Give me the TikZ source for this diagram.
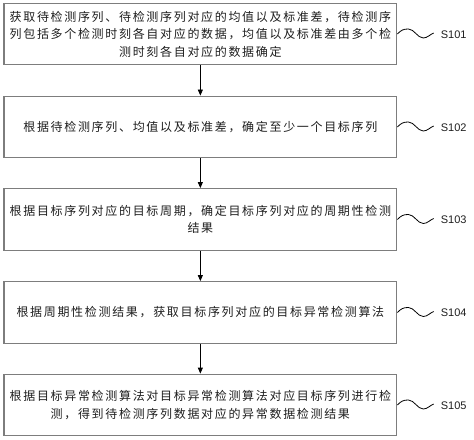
\documentclass[tikz,border=0pt]{standalone}
\usepackage{fontspec}
\setmainfont{Noto Sans CJK SC}[LetterSpace=14]
\newfontfamily\labfont{Liberation Sans}
\usetikzlibrary{arrows.meta}
\definecolor{boxgray}{RGB}{125,125,125}
\definecolor{txt}{RGB}{30,30,30}
\begin{document}
\begin{tikzpicture}[x=1bp,y=-1bp,
  stepbox/.style={draw=boxgray, line width=1.3bp, minimum width=392.7bp, minimum height=61.5bp,
    text width=390bp, align=center, inner sep=0pt, text=txt,
    font=\fontsize{12bp}{17.5bp}\selectfont},
  steplab/.style={anchor=west, inner sep=0pt, text=txt, font=\labfont\fontsize{11bp}{13bp}\selectfont},
  arr/.style={draw=black, line width=0.8bp, -{Triangle[length=6bp,width=5bp]}},
  wavy/.style={draw=black, line width=0.8bp}]
\useasboundingbox (0,0) rectangle (474,440);
\node[stepbox] (b1) at (200.35,34) {获取待检测序列、待检测序列对应的均值以及标准差，待检测序\\列包括多个检测时刻各自对应的数据，均值以及标准差由多个检\\测时刻各自对应的数据确定};
\node[stepbox] (b2) at (200.35,127) {根据待检测序列、均值以及标准差，确定至少一个目标序列};
\node[stepbox] (b3) at (200.35,219.5) {根据目标序列对应的目标周期，确定目标序列对应的周期性检测\\结果};
\node[stepbox] (b4) at (200.35,312.5) {根据周期性检测结果，获取目标序列对应的目标异常检测算法};
\node[stepbox] (b5) at (200.35,405) {根据目标异常检测算法对目标异常检测算法对应目标序列进行检\\测，得到待检测序列数据对应的异常数据检测结果};
\foreach \i in {1,...,5}{
  \node[steplab] (l\i) at ([xshift=43.3bp,yshift=-0.5bp]b\i.east) {S10\i};
  \draw[wavy] (b\i.east) .. controls +(4,-4) and +(-5,0) .. ++(11,-5)
     .. controls +(6,0) and +(-6,0) .. ++(15,9)
     .. controls +(4,0) and +(-3,1) .. ([xshift=-7bp,yshift=1.5bp]l\i.west);
}
\draw[arr] (b1.south) -- (b2.north);
\draw[arr] (b2.south) -- (b3.north);
\draw[arr] (b3.south) -- (b4.north);
\draw[arr] (b4.south) -- (b5.north);
\end{tikzpicture}
\end{document}
